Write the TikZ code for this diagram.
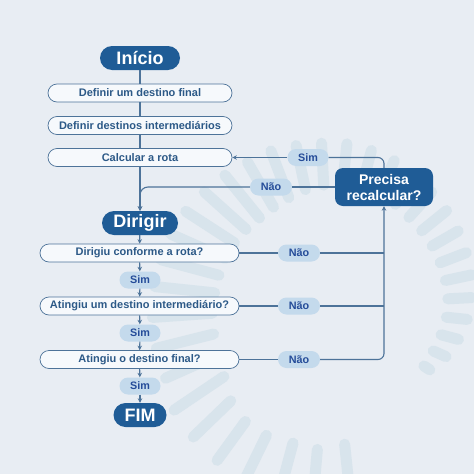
\documentclass[tikz,border=0pt]{standalone}
\usepackage{fontspec}
\setmainfont{Liberation Sans}
\usetikzlibrary{arrows.meta,calc}
\definecolor{bg}{HTML}{E8EDF3}
\definecolor{raycol}{HTML}{D8E4EC}
\definecolor{dark}{HTML}{1F5C96}
\definecolor{txt}{HTML}{2C5987}
\definecolor{edge}{HTML}{4D7399}
\definecolor{pill}{HTML}{C4DAEC}
\definecolor{boxfill}{HTML}{F6F9FC}
\begin{document}
\begin{tikzpicture}[x=1pt,y=-1pt,
  term/.style={fill=dark,text=white,inner sep=0pt,minimum height=24pt,rounded corners=12pt,
    font=\bfseries\fontsize{18}{20}\selectfont},
  stepbox/.style={draw=edge,line width=0.7pt,fill=boxfill,text=txt,inner sep=0pt,minimum height=18pt,
    rounded corners=9pt,font=\bfseries\fontsize{11}{12}\selectfont},
  lbl/.style={fill=pill,text=txt!85!blue,inner sep=0pt,minimum height=17pt,minimum width=41pt,rounded corners=8.5pt,
    font=\bfseries\fontsize{10.8}{12}\selectfont},
  decision/.style={fill=dark,text=white,inner sep=0pt,minimum height=38pt,minimum width=98pt,rounded corners=8pt,
    align=center,font=\bfseries\fontsize{14}{16}\selectfont},
  conn/.style={draw=edge,line width=1.1pt},
  arr/.style={conn,-{Stealth[length=4.5pt,width=4.5pt]}},
  raystyle/.style={draw=raycol,line width=11pt,line cap=round}
]
\fill[bg] (0,0) rectangle (474,474);
\useasboundingbox (0,0) rectangle (474,474);
% decorative sunburst
\begin{scope}[shift={(330,305)}]
\foreach \a/\ra/\rb in {84/140/205, 95/145/205, 105/143/202, 116/145/196, 126/144/192, 136/138/190,
  146/128/188, 156/124/180, 166/120/179, 176/118/178, 186/116/176, 195/115/175, 204/115/174, 213/114/172,
  222/113/169, 231/112/167, 240/113/165, 249/115/165, 258/118/163, 267/120/162, 276/122/162, 285/122/160,
  294/120/158, 303/120/155, 312/118/152, 321/118/150, 330/118/148, 339/118/146, 348/118/145, 357/118/142,
  6/117/138, 15/115/133, 24/113/127, 33/112/119}
  \draw[raystyle] (\a:\ra) -- (\a:\rb);
\end{scope}
% nodes
\node[term,minimum width=80pt] (inicio) at (140,58) {Início};
\node[stepbox,minimum width=184pt] (d1) at (140,93) {Definir um destino final};
\node[stepbox,minimum width=184pt] (d2) at (140,125.5) {Definir destinos intermediários};
\node[stepbox,minimum width=184pt] (calc) at (140,157.5) {Calcular a rota};
\node[term,minimum width=76pt] (dirigir) at (140,223) {Dirigir};
\node[stepbox,minimum width=199pt] (q1) at (139.5,253) {Dirigiu conforme a rota?};
\node[lbl] (sim1) at (140,280) {Sim};
\node[stepbox,minimum width=199pt] (q2) at (139.5,306) {Atingiu um destino intermediário?};
\node[lbl] (sim2) at (140,333) {Sim};
\node[stepbox,minimum width=199pt] (q3) at (139.5,359.5) {Atingiu o destino final?};
\node[lbl] (sim3) at (140,386) {Sim};
\node[term,minimum width=53pt] (fim) at (140,415) {FIM};
\node[decision] (prec) at (384,187) {Precisa\\recalcular?};
\node[lbl] (sim0) at (308,157.5) {Sim};
\node[lbl,minimum width=42pt] (nao0) at (271,187) {Não};
\node[lbl,minimum width=42pt] (nao1) at (299,253) {Não};
\node[lbl,minimum width=42pt] (nao2) at (299,306) {Não};
\node[lbl,minimum width=42pt] (nao3) at (299,359.5) {Não};
% main chain
\draw[conn] (inicio) -- (d1);
\draw[conn] (d1) -- (d2);
\draw[conn] (d2) -- (calc);
\draw[arr] (calc) -- (dirigir);
\draw[arr] (dirigir) -- (q1);
\draw[arr] (q1) -- (sim1);
\draw[arr] (sim1) -- (q2);
\draw[arr] (q2) -- (sim2);
\draw[arr] (sim2) -- (q3);
\draw[arr] (q3) -- (sim3);
\draw[arr] (sim3) -- (fim);
% recalculation loop
\draw[conn,rounded corners=6pt] (prec.north) |- (sim0.east);
\draw[arr] (sim0) -- (calc);
\draw[conn] (prec) -- (nao0);
\draw[arr,rounded corners=8pt] (nao0.west) -| (dirigir.north);
\draw[conn] (q1) -- (nao1);
\draw[conn] (nao1) -- (nao1 -| prec.south);
\draw[conn] (q2) -- (nao2);
\draw[conn] (nao2) -- (nao2 -| prec.south);
\draw[conn] (q3) -- (nao3);
\draw[arr,rounded corners=6pt] (nao3.east) -| (prec.south);
\end{tikzpicture}
\end{document}
